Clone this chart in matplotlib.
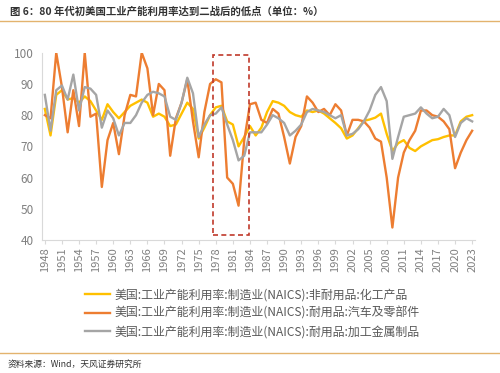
import numpy as np
import matplotlib
matplotlib.use("Agg")
import matplotlib.pyplot as plt
from matplotlib.patches import Rectangle

plt.rcParams['font.family'] = ['Noto Sans CJK SC', 'DejaVu Sans']

years = np.arange(1948, 2024)

# 化工产品
chem = [82, 73.5, 86.5, 88, 85, 85.5, 84, 86, 84.5, 81.5,
        78.5, 83.5, 81, 79, 81, 83, 84, 85, 84, 79.5,
        80.5, 79.5, 76.5, 77, 80.5, 84, 82, 72.5, 76, 80,
        82.5, 83, 78, 77, 70, 73, 76.5, 73.5, 76, 81,
        84.5, 84, 83, 81, 80, 79.5, 81.5, 81, 81.5, 80.5,
        79, 77.5, 75.8, 72.5, 73.5, 75.8, 78.2, 78.6, 79.2, 80.5,
        74, 68.5, 71, 72, 69.5, 68.5, 70, 71, 72, 72.3,
        73, 73.5, 73.5, 78, 79.5, 80]

# 汽车及零部件
auto = [80, 79, 100, 89, 74.5, 88, 76.5, 100, 79.5, 80.5,
        57, 72, 77.5, 67.5, 80, 86.5, 86, 100, 95, 80,
        90, 88, 67, 79, 84, 91.5, 78, 66.5, 81, 90,
        91.5, 90.5, 60, 58, 51, 72, 83.5, 84, 78.5, 77.5,
        82, 80.5, 73, 64.5, 73, 76.5, 86, 84, 81, 82,
        80, 83.5, 81.5, 73.5, 78.5, 78.5, 78, 76, 72.5, 71.5,
        60, 44, 60, 68, 72, 75, 81.5, 81.5, 80, 79.5,
        78, 75.5, 63, 68, 72, 75]

# 加工金属制品
metal = [86.5, 75, 88, 89.5, 85, 93, 81.5, 89, 88.5, 86.5,
         76, 81.5, 79, 73.5, 77.5, 77.5, 80, 84, 86.5, 87.5,
         87, 86, 79.5, 78.5, 84, 92, 87, 73, 77, 80,
         80.5, 82.5, 77, 72, 65.5, 67, 74.5, 74.5, 74.5, 77,
         80, 79, 77.5, 73.5, 75, 77, 81, 82, 81.5, 81,
         80, 79, 80, 73.5, 74, 75.5, 78, 81.5, 86.5, 89,
         84.5, 66, 73, 79.5, 80, 80.5, 82.5, 80.5, 79, 79.5,
         82, 80, 73, 77.5, 79, 78]

series_names = ["美国:工业产能利用率:制造业(NAICS):非耐用品:化工产品",
                "美国:工业产能利用率:制造业(NAICS):耐用品:汽车及零部件",
                "美国:工业产能利用率:制造业(NAICS):耐用品:加工金属制品"]
colors = ["#FFC000", "#ED7D31", "#A5A5A5"]
tick_years = np.arange(1948, 2024, 3)
yticks = [40, 50, 60, 70, 80, 90, 100]

fig = plt.figure(figsize=(5, 3.73), dpi=100)
ax = fig.add_axes([0.084, 0.3566, 0.866, 0.502])

lines = []
for vals, c, name in zip([chem, auto, metal], colors, series_names):
    ln, = ax.plot(years, vals, color=c, lw=1.7, label=name, solid_joinstyle='round')
    lines.append(ln)

ax.set_xlim(1947.5, 2023.5)
ax.set_ylim(40, 100)
ax.set_yticks(yticks)
ax.set_xticks(tick_years)
ax.set_xticklabels([str(y) for y in tick_years], rotation=90, fontsize=8, color="#808080")
ax.tick_params(axis='y', length=0, labelsize=8.5, labelcolor="#808080", pad=6)
ax.tick_params(axis='x', length=3, color="#D9D9D9", pad=2)
for s in ["top", "right"]:
    ax.spines[s].set_visible(False)
for s in ["left", "bottom"]:
    ax.spines[s].set_color("#D9D9D9")
    ax.spines[s].set_linewidth(0.8)

# 虚线框：1980年代初
ax.add_patch(Rectangle((1977.6, 41.5), 6.2, 57.9, fill=False, ec="#C0392B",
                       lw=1.2, ls=(0, (3, 2)), zorder=5, clip_on=False))

fig.legend(handles=lines, loc="upper left", bbox_to_anchor=(0.158, 0.243),
           frameon=False, fontsize=8.6, handlelength=2.1, handletextpad=0.4,
           labelspacing=0.45, borderpad=0, labelcolor="#595959")

fig.text(0.02, 0.968, "图 6：80 年代初美国工业产能利用率达到二战后的低点（单位：%）",
         fontsize=7.5, fontweight="bold", color="#333333", va="center")
fig.add_artist(plt.Line2D([0, 1], [0.944, 0.944], color="#E3B36E", lw=1))
fig.add_artist(plt.Line2D([0, 1], [0.0536, 0.0536], color="#E3B36E", lw=1))
fig.text(0.016, 0.024, "资料来源：Wind，天风证券研究所", fontsize=6.3, color="#333333", va="center")

fig.savefig("out.png", dpi=100)
